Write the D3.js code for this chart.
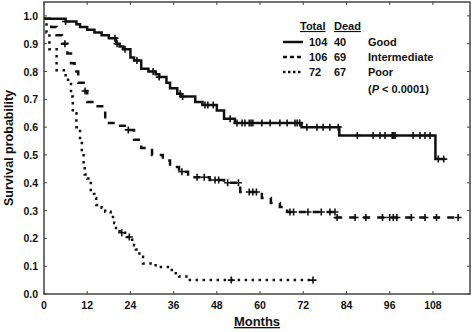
<!DOCTYPE html>
<html>
<head>
<meta charset="utf-8">
<script src="https://cdn.jsdelivr.net/npm/d3@7"></script>
<style>
  body { margin: 0; background: #fff; }
  text { font-family: "Liberation Sans", Arial, sans-serif; font-weight: bold; fill: #111; }
</style>
</head>
<body>
<div id="chart"></div>
<script>
// step curves: time (months) and survival after that time
const goodTimes = [0, 6, 9, 10, 12, 14, 16, 18, 20, 21, 22, 24, 25, 27, 29, 31, 32, 34, 35, 37, 38, 42, 44, 48, 50, 53, 71.5, 82, 108.7, 111.3];
const goodSurv  = [0.99, 0.98, 0.97, 0.96, 0.95, 0.94, 0.93, 0.92, 0.90, 0.89, 0.88, 0.85, 0.84, 0.81, 0.80, 0.79, 0.78, 0.76, 0.74, 0.72, 0.71, 0.69, 0.68, 0.66, 0.63, 0.615, 0.60, 0.57, 0.485, 0.485];
const goodCensor = [6, 19.7, 20.3, 22.5, 25.8, 30.3, 32, 37.8, 38.5, 44.7, 45.5, 47, 51.7, 53.6, 55, 55.8, 57, 57.5, 58, 60.5, 62.8, 65.5, 67.5, 69.7, 70.3, 71, 73, 75.8, 77.5, 79.4, 81.7, 87, 91.4, 93.3, 94.7, 96.7, 97.1, 97.5, 102.5, 104.4, 105.8, 107.2, 109.5, 111];

const interTimes = [0, 2, 3.5, 5, 6.5, 7.5, 8.5, 9.5, 11, 12, 14, 17, 20, 23, 25, 27, 30, 33, 35, 37.5, 40, 46, 50, 54.5, 60.5, 63, 65.5, 67.5, 81, 115.5];
const interSurv  = [0.99, 0.96, 0.93, 0.90, 0.865, 0.83, 0.80, 0.76, 0.73, 0.69, 0.675, 0.615, 0.605, 0.59, 0.555, 0.525, 0.50, 0.48, 0.457, 0.44, 0.42, 0.41, 0.40, 0.367, 0.345, 0.327, 0.313, 0.295, 0.275, 0.275];
const interCensor = [5.8, 11.4, 23.4, 38.3, 42.5, 44.5, 47.5, 48.5, 51, 54, 57, 58, 59, 68.3, 69.3, 73.3, 77, 79.4, 80.8, 81.4, 86.4, 89.4, 94, 96, 97, 98, 102, 105.8, 109, 115];

const poorTimes = [0, 0.7, 1.5, 3.5, 6, 7.5, 8, 9, 10, 10.5, 11, 11.3, 12, 13, 14, 14.5, 16, 17, 18.5, 19.5, 20, 21, 23, 24.5, 25, 25.5, 26.5, 27.5, 31, 35.5, 37.5, 40, 75];
const poorSurv  = [0.99, 0.94, 0.88, 0.805, 0.77, 0.71, 0.65, 0.60, 0.555, 0.505, 0.46, 0.43, 0.415, 0.36, 0.345, 0.32, 0.31, 0.296, 0.277, 0.255, 0.23, 0.22, 0.205, 0.195, 0.175, 0.16, 0.134, 0.11, 0.097, 0.075, 0.063, 0.05, 0.05];
const poorCensor = [21.6, 23.7, 52, 74.7];

const xTicks = [0, 12, 24, 36, 48, 60, 72, 84, 96, 108];
const yTicks = [0, 0.1, 0.2, 0.3, 0.4, 0.5, 0.6, 0.7, 0.8, 0.9, 1.0];

const legendTotal = [104, 106, 72];
const legendDead = [40, 69, 67];
const legendLabels = ["Good", "Intermediate", "Poor"];

const W = 474, H = 332;
const margins = { top: 2, right: 4, bottom: 38, left: 44 };

const svg = d3.select("#chart").append("svg")
  .attr("width", W).attr("height", H);

const x = d3.scaleLinear().domain([0, 118.3]).range([margins.left, W - margins.right]);
const y = d3.scaleLinear().domain([0, 1.05]).range([H - margins.bottom, margins.top]);

// frame
svg.append("rect")
  .attr("x", x(0)).attr("y", y(1.05))
  .attr("width", x(118.3) - x(0)).attr("height", y(0) - y(1.05))
  .attr("fill", "none").attr("stroke", "#444").attr("stroke-width", 1.5);

// inward ticks on all sides
const tickLen = 3;
svg.append("g").selectAll("line").data(xTicks).join("line")
  .attr("x1", d => x(d)).attr("x2", d => x(d))
  .attr("y1", y(0)).attr("y2", y(0) - tickLen)
  .attr("stroke", "#444");
svg.append("g").selectAll("line").data(xTicks).join("line")
  .attr("x1", d => x(d)).attr("x2", d => x(d))
  .attr("y1", y(1.05)).attr("y2", y(1.05) + tickLen)
  .attr("stroke", "#444");
svg.append("g").selectAll("line").data(yTicks).join("line")
  .attr("x1", x(0)).attr("x2", x(0) + tickLen)
  .attr("y1", d => y(d)).attr("y2", d => y(d))
  .attr("stroke", "#444");
svg.append("g").selectAll("line").data(yTicks).join("line")
  .attr("x1", x(118.3)).attr("x2", x(118.3) - tickLen)
  .attr("y1", d => y(d)).attr("y2", d => y(d))
  .attr("stroke", "#444");

// tick labels
svg.append("g").selectAll("text").data(xTicks).join("text")
  .attr("x", d => x(d)).attr("y", y(0) + 15)
  .attr("text-anchor", "middle").attr("font-size", 10.5)
  .text(d => d);
svg.append("g").selectAll("text").data(yTicks).join("text")
  .attr("x", x(0) - 6).attr("y", d => y(d) + 4)
  .attr("text-anchor", "end").attr("font-size", 10.5)
  .text(d => d3.format(".1f")(d));

// axis titles
svg.append("text")
  .attr("transform", `translate(13,${(y(0) + y(1.05)) / 2}) rotate(-90)`)
  .attr("text-anchor", "middle").attr("font-size", 12.5)
  .text("Survival probability");
svg.append("text")
  .attr("x", 257).attr("y", 326)
  .attr("text-anchor", "middle").attr("font-size", 13)
  .attr("text-decoration", "underline")
  .text("Months");

// curves
const curves = [
  { times: goodTimes, surv: goodSurv, censor: goodCensor, dash: null },
  { times: interTimes, surv: interSurv, censor: interCensor, dash: "7,7" },
  { times: poorTimes, surv: poorSurv, censor: poorCensor, dash: "2.5,4.5" },
];

const line = d3.line()
  .x(d => x(d[0])).y(d => y(d[1]))
  .curve(d3.curveStepAfter);

function survAt(c, t) {
  let s = c.surv[0];
  for (let i = 0; i < c.times.length; i++) {
    if (c.times[i] <= t) s = c.surv[i];
  }
  return s;
}

curves.forEach(c => {
  const pts = c.times.map((t, i) => [t, c.surv[i]]);
  svg.append("path")
    .datum(pts)
    .attr("d", line)
    .attr("fill", "none")
    .attr("stroke", "#111")
    .attr("stroke-width", 2.5)
    .attr("stroke-dasharray", c.dash);

  // censor marks (+)
  svg.append("g").selectAll("path").data(c.censor).join("path")
    .attr("d", t => {
      const cx = x(t), cy = y(survAt(c, t));
      return `M${cx - 3.5},${cy}H${cx + 3.5}M${cx},${cy - 3.5}V${cy + 3.5}`;
    })
    .attr("stroke", "#111").attr("stroke-width", 1.6).attr("fill", "none");
});

// legend
const lg = svg.append("g").attr("font-size", 11);
lg.append("text").attr("x", 300).attr("y", 30)
  .attr("text-decoration", "underline").text("Total");
lg.append("text").attr("x", 334).attr("y", 30)
  .attr("text-decoration", "underline").text("Dead");
const rowY = [46, 61, 76];
const dashes = [null, "4,3", "2.5,2.5"];
legendLabels.forEach((lab, i) => {
  lg.append("line")
    .attr("x1", 283).attr("x2", 303)
    .attr("y1", rowY[i] - 4).attr("y2", rowY[i] - 4)
    .attr("stroke", "#111").attr("stroke-width", 2.5)
    .attr("stroke-dasharray", dashes[i]);
  lg.append("text").attr("x", 309).attr("y", rowY[i]).text(legendTotal[i]);
  lg.append("text").attr("x", 334).attr("y", rowY[i]).text(legendDead[i]);
  lg.append("text").attr("x", 368).attr("y", rowY[i]).text(lab);
});
const pText = lg.append("text").attr("x", 368).attr("y", 93);
pText.append("tspan").text("(");
pText.append("tspan").attr("font-style", "italic").text("P");
pText.append("tspan").text(" < 0.0001)");
</script>
</body>
</html>
